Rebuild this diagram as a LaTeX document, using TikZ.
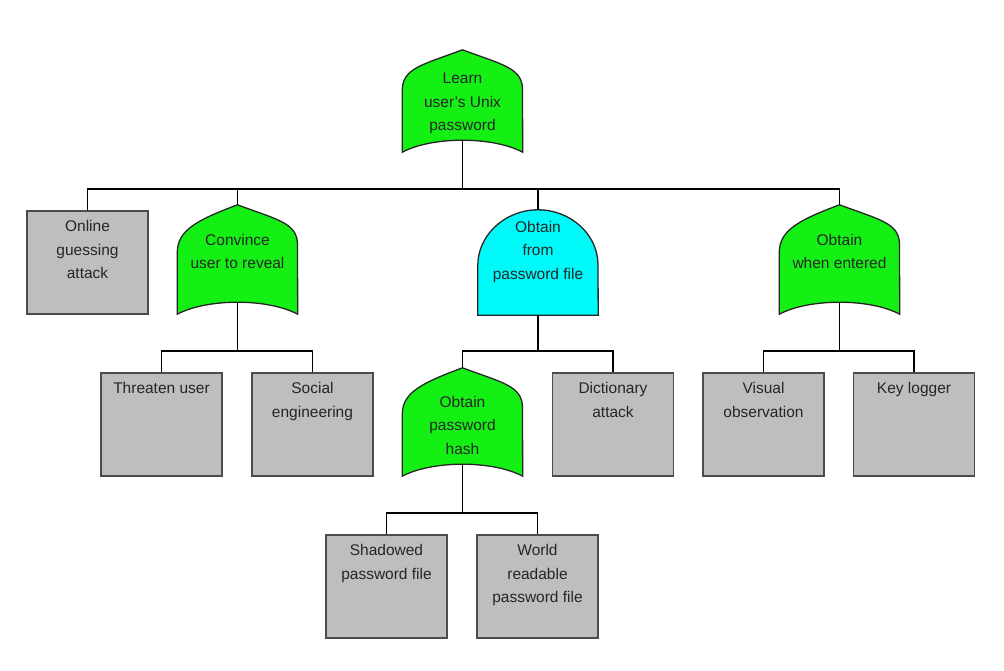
\documentclass[tikz,border=0pt]{standalone}
\usepackage{fontspec}
\setmainfont{Liberation Sans}
\usetikzlibrary{backgrounds}
\definecolor{gategreen}{RGB}{20,240,20}
\definecolor{gatecyan}{RGB}{0,250,250}
\definecolor{boxgray}{RGB}{190,190,190}

% gate outlines drawn from the anchors of a named node
\newcommand{\orshape}[1]{
  \draw[gateline,fill=gategreen] (#1.south west) -- ++(0,-62)
    .. controls +(0,-22) and +(-40,15) .. (#1.north)
    .. controls +(40,15) and +(0,-22) .. ++(60,40)
    -- (#1.south east)
    .. controls +(-30,-16) and +(30,-16) .. (#1.south west) -- cycle;}
\newcommand{\andshape}[1]{
  \draw[gateline,fill=gatecyan] (#1.south west) -- ++(0,-50)
    .. controls +(0,-30) and +(-33,0) .. (#1.north)
    .. controls +(33,0) and +(0,-30) .. ++(60,55)
    -- (#1.south east) -- cycle;}

\begin{document}
\begin{tikzpicture}[x=1pt,y=-1pt,
  font=\fontsize{15.5}{23.5}\selectfont,
  gateline/.style={line width=1.3pt,draw=black!85},
  gate/.style={shape=rectangle,draw=none,minimum width=120pt,inner sep=0pt},
  box/.style={shape=rectangle,draw=black!70,line width=1.3pt,fill=boxgray,
    minimum width=121pt,minimum height=103pt,inner sep=0pt},
  lbl/.style={align=center,inner sep=0pt,text=black!85},
  link/.style={line width=1.2pt,draw=black}]
  \useasboundingbox (0,0) rectangle (1004,670);

  % gates
  \node[gate,minimum height=102pt,label={[lbl,below=23pt]north:Learn\\user's Unix\\password}] (learn) at (462.5,101) {};
  \node[gate,minimum height=109pt,label={[lbl,below=29pt]north:Convince\\user to reveal}] (convince) at (237.5,259.5) {};
  \node[gate,minimum height=105pt,label={[lbl,below=11pt]north:Obtain\\from\\password file}] (file) at (538,262.5) {};
  \node[gate,minimum height=109pt,label={[lbl,below=29pt]north:Obtain\\when entered}] (entered) at (839.5,259.5) {};
  \node[gate,minimum height=108pt,label={[lbl,below=28pt]north:Obtain\\password\\hash}] (hash) at (462.5,422) {};

  \begin{scope}[on background layer]
    \orshape{learn}
    \orshape{convince}
    \andshape{file}
    \orshape{entered}
    \orshape{hash}
  \end{scope}

  % leaves
  \node[box,label={[lbl,below=10pt]north:Online\\guessing\\attack}] (online) at (87.5,262.5) {};
  \node[box,label={[lbl,below=10pt]north:Threaten user}] (threaten) at (161.5,424.5) {};
  \node[box,label={[lbl,below=10pt]north:Social\\engineering}] (social) at (312.5,424.5) {};
  \node[box,label={[lbl,below=10pt]north:Dictionary\\attack}] (dictionary) at (613,424.5) {};
  \node[box,label={[lbl,below=10pt]north:Visual\\observation}] (visual) at (763.5,424.5) {};
  \node[box,label={[lbl,below=10pt]north:Key logger}] (keylogger) at (914,424.5) {};
  \node[box,label={[lbl,below=10pt]north:Shadowed\\password file}] (shadowed) at (386.5,586.5) {};
  \node[box,label={[lbl,below=10pt]north:World\\readable\\password file}] (world) at (537.5,586.5) {};

  % connectors
  \draw[link] ([yshift=12pt]learn.south) -- (462.5,189) coordinate (bar1);
  \draw[link] (online.north) |- (bar1);
  \draw[link] (convince.north) |- (bar1);
  \draw[link] (file.north) |- (bar1);
  \draw[link] (entered.north) |- (bar1);

  \draw[link] ([yshift=12pt]convince.south) -- (237.5,351) coordinate (bar2);
  \draw[link] (threaten.north) |- (bar2);
  \draw[link] (social.north) |- (bar2);

  \draw[link] (file.south) -- (538,351) coordinate (bar3);
  \draw[link] (hash.north) |- (bar3);
  \draw[link] (dictionary.north) |- (bar3);

  \draw[link] ([yshift=12pt]entered.south) -- (839.5,351) coordinate (bar4);
  \draw[link] (visual.north) |- (bar4);
  \draw[link] (keylogger.north) |- (bar4);

  \draw[link] ([yshift=12pt]hash.south) -- (462.5,513) coordinate (bar5);
  \draw[link] (shadowed.north) |- (bar5);
  \draw[link] (world.north) |- (bar5);
\end{tikzpicture}
\end{document}
